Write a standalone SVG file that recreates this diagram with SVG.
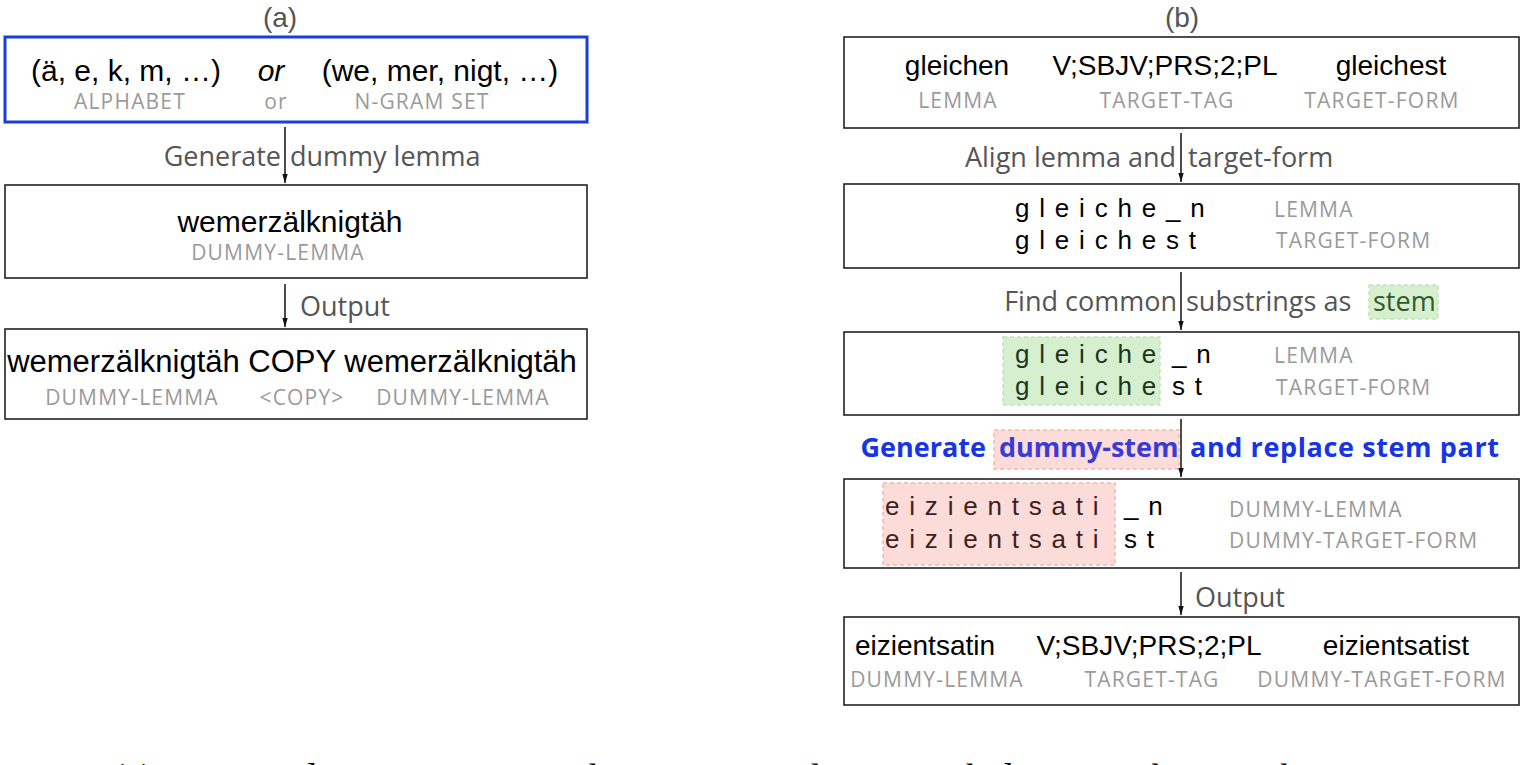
<svg xmlns="http://www.w3.org/2000/svg" width="1523" height="765" viewBox="0 0 1523 765">
<defs>
<style>
.main{font-family:"Liberation Sans",Arial,sans-serif;fill:#000}
.a{font-size:30px}
.b{font-size:28px}
.lbl{font-family:"Open Sans",sans-serif;fill:#9a9a9a;font-size:21px;letter-spacing:1.2px}
.step{font-family:"Open Sans",sans-serif;fill:#555;font-size:27px}
.blue{font-family:"Open Sans",sans-serif;fill:#1634e8;font-size:27px;font-weight:bold}
.box{fill:#fff;stroke:#222;stroke-width:1.6}
.sp{font-family:"Liberation Sans",Arial,sans-serif;font-size:26px;letter-spacing:9.8px;fill:#000}
.title{font-family:"Liberation Sans",Arial,sans-serif;font-size:28px;fill:#555}
.conn{stroke:#111;stroke-width:1.5;fill:none;marker-end:url(#ah)}
.green{fill:#d6f0cf;stroke:#c2e5b9;stroke-width:1.5;stroke-dasharray:4 3}
.pink{fill:#fbdcd9;stroke:#f3b6b1;stroke-width:1.5;stroke-dasharray:4 3}
</style>
<marker id="ah" viewBox="0 0 10 10" refX="10" refY="5" markerWidth="9" markerHeight="9" markerUnits="userSpaceOnUse" orient="auto">
<path d="M0,2 L10,5 L0,8 z" fill="#111"/>
</marker>
</defs>
<rect width="1523" height="765" fill="#fff"/>

<text class="title" x="280" y="27" text-anchor="middle">(a)</text>
<text class="title" x="1182" y="27" text-anchor="middle">(b)</text>

<g id="a-input">
<rect x="5" y="37" width="582" height="85" fill="#fff" stroke="#1a3fd8" stroke-width="3"/>
<text class="main a" x="126" y="81" text-anchor="middle">(ä, e, k, m, …)</text>
<text class="main a" x="271" y="81" text-anchor="middle" font-style="italic">or</text>
<text class="main a" x="440" y="81" text-anchor="middle">(we, mer, nigt, …)</text>
<text class="lbl" x="130" y="109" text-anchor="middle">ALPHABET</text>
<text class="lbl" x="276" y="109" text-anchor="middle">or</text>
<text class="lbl" x="422" y="109" text-anchor="middle">N-GRAM SET</text>
</g>

<g id="a-dummy">
<rect class="box" x="5" y="185" width="582" height="93"/>
<text class="main a" x="290" y="232" text-anchor="middle">wemerzälknigtäh</text>
<text class="lbl" x="278" y="260" text-anchor="middle">DUMMY-LEMMA</text>
</g>

<g id="a-output">
<rect class="box" x="5" y="329" width="582" height="90"/>
<text class="main" font-size="31" x="292" y="372" text-anchor="middle">wemerzälknigtäh COPY wemerzälknigtäh</text>
<text class="lbl" x="132" y="405" text-anchor="middle">DUMMY-LEMMA</text>
<text class="lbl" x="302" y="405" text-anchor="middle">&lt;COPY&gt;</text>
<text class="lbl" x="463" y="405" text-anchor="middle">DUMMY-LEMMA</text>
</g>

<g id="b-input">
<rect class="box" x="844" y="37" width="675" height="91"/>
<text class="main b" x="957" y="75" text-anchor="middle">gleichen</text>
<text class="main b" x="1165" y="75" text-anchor="middle">V;SBJV;PRS;2;PL</text>
<text class="main b" x="1391" y="75" text-anchor="middle">gleichest</text>
<text class="lbl" x="958" y="108" text-anchor="middle">LEMMA</text>
<text class="lbl" x="1167" y="108" text-anchor="middle">TARGET-TAG</text>
<text class="lbl" x="1382" y="108" text-anchor="middle">TARGET-FORM</text>
</g>

<g id="b-align">
<rect class="box" x="844" y="184" width="675" height="84"/>
<text class="sp" x="1015" y="217">gleiche_n</text>
<text class="sp" x="1015" y="249">gleichest</text>
<text class="lbl" x="1274" y="217">LEMMA</text>
<text class="lbl" x="1276" y="248">TARGET-FORM</text>
</g>

<g id="b-stem">
<rect class="box" x="844" y="332" width="675" height="83"/>
<rect class="green" x="1003" y="337" width="157" height="68"/>
<text class="sp" x="1015" y="363" style="fill:#1c351c">gleiche</text>
<text class="sp" x="1172" y="363">_n</text>
<text class="sp" x="1015" y="395" style="fill:#1c351c">gleiche</text>
<text class="sp" x="1172" y="395">st</text>
<text class="lbl" x="1274" y="363">LEMMA</text>
<text class="lbl" x="1276" y="395">TARGET-FORM</text>
</g>

<g id="b-dummy">
<rect class="box" x="844" y="479" width="675" height="89"/>
<rect class="pink" x="883" y="483" width="232" height="82"/>
<text class="sp" x="885" y="515" style="fill:#3e1e1e">eizientsati</text>
<text class="sp" x="1124" y="515">_n</text>
<text class="sp" x="885" y="548" style="fill:#3e1e1e">eizientsati</text>
<text class="sp" x="1124" y="548">st</text>
<text class="lbl" x="1229" y="517">DUMMY-LEMMA</text>
<text class="lbl" x="1229" y="548">DUMMY-TARGET-FORM</text>
</g>

<g id="b-output">
<rect class="box" x="844" y="617" width="675" height="88"/>
<text class="main b" x="925" y="655" text-anchor="middle">eizientsatin</text>
<text class="main b" x="1149" y="655" text-anchor="middle">V;SBJV;PRS;2;PL</text>
<text class="main b" x="1396" y="655" text-anchor="middle">eizientsatist</text>
<text class="lbl" x="937" y="687" text-anchor="middle">DUMMY-LEMMA</text>
<text class="lbl" x="1152" y="687" text-anchor="middle">TARGET-TAG</text>
<text class="lbl" x="1382" y="687" text-anchor="middle">DUMMY-TARGET-FORM</text>
</g>

<g id="connectors">
<line class="conn" x1="285" y1="127" x2="285" y2="183"/>
<line class="conn" x1="285" y1="284" x2="285" y2="327"/>
<line class="conn" x1="1181" y1="133" x2="1181" y2="182"/>
<line class="conn" x1="1181" y1="272" x2="1181" y2="330"/>
<rect class="pink" x="994" y="430" width="185" height="39"/>
<rect class="green" x="1369" y="285" width="69" height="34"/>
<line class="conn" x1="1181" y1="419" x2="1181" y2="477"/>
<line class="conn" x1="1181" y1="572" x2="1181" y2="615"/>
<text class="step" x="281" y="166" text-anchor="end">Generate</text>
<text class="step" x="290" y="166">dummy lemma</text>
<text class="step" x="300" y="316">Output</text>
<text class="step" x="1176" y="167" text-anchor="end">Align lemma and</text>
<text class="step" x="1188" y="167">target-form</text>
<text class="step" x="1177" y="311" text-anchor="end">Find common</text>
<text class="step" x="1186" y="311">substrings as</text>
<text class="step" x="1373" y="311" style="fill:#2f5a2f">stem</text>
<text class="blue" x="986" y="457" text-anchor="end">Generate</text>
<text class="blue" x="999" y="457" style="fill:#3a3ad6">dummy-stem</text>
<text class="blue" x="1190" y="457" textLength="309" lengthAdjust="spacing">and replace stem part</text>
<text class="step" x="1195" y="607">Output</text>
</g>

<text x="73" y="790" font-family="Liberation Serif, serif" font-size="38" fill="#000">2: (a) Dummy data generation with Copy example in our 2k dummy scheme, where stem is swapped and suffix retained</text>
</svg>
